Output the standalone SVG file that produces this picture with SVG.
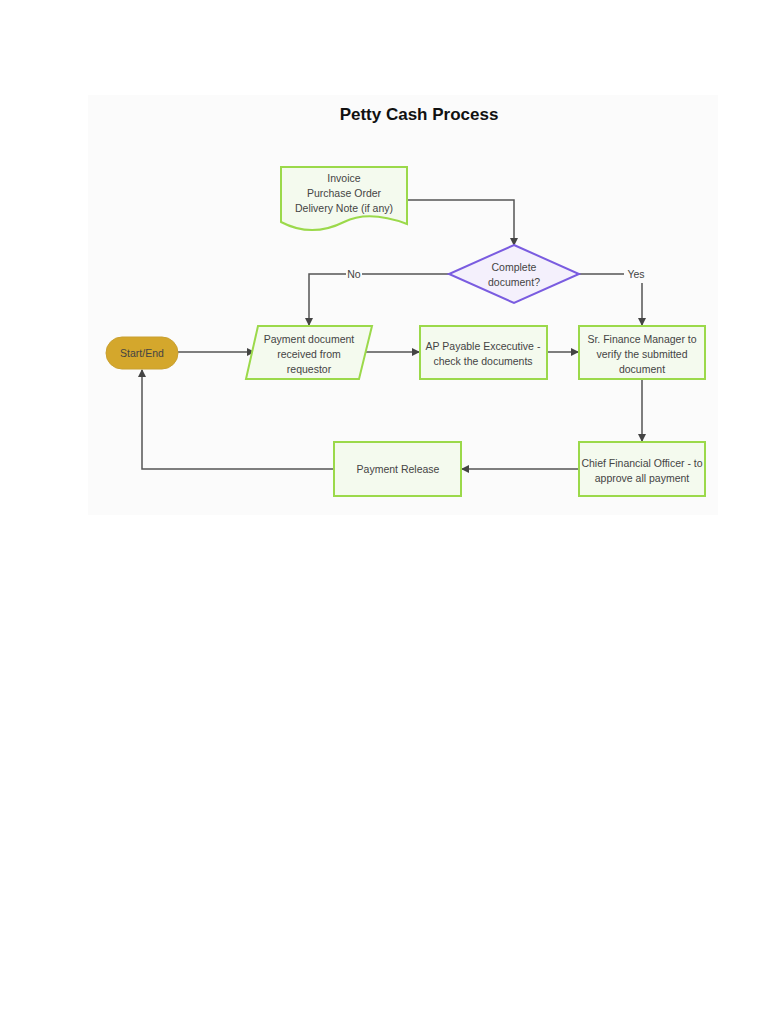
<svg xmlns="http://www.w3.org/2000/svg" width="768" height="1024" viewBox="0 0 768 1024">
<defs>
<marker id="ar" markerWidth="8" markerHeight="8" refX="7" refY="4" orient="auto" markerUnits="userSpaceOnUse"><path d="M0,0 L8,4 L0,8 Z" fill="#444"/></marker>
<style>
.n{fill:#f4faee;stroke:#9bd94a;stroke-width:2}
.t{font-family:"Liberation Sans",Arial,sans-serif;font-size:10.5px;fill:#444;text-anchor:middle}
.c{fill:none;stroke:#555;stroke-width:1.5;marker-end:url(#ar)}
.l{fill:none;stroke:#555;stroke-width:1.5}
</style>
</defs>
<rect width="768" height="1024" fill="#ffffff"/>
<rect x="88" y="95" width="630" height="420" fill="#fbfbfb"/>
<text x="419" y="120" font-family="'Liberation Sans',Arial,sans-serif" font-size="17" font-weight="bold" fill="#111" text-anchor="middle">Petty Cash Process</text>
<g id="connectors">
<path class="c" d="M407,200 H514 V245"/>
<path class="l" d="M449,274 H362"/>
<path class="c" d="M346,274 H309 V325"/>
<text class="t" x="354" y="278">No</text>
<path class="l" d="M579,274 H624"/>
<path class="c" d="M642,283 V325"/>
<text class="t" x="636" y="278">Yes</text>
<path class="c" d="M178,352 H254"/>
<path class="c" d="M365,352 H419"/>
<path class="c" d="M547,352 H578"/>
<path class="c" d="M642,379 V441"/>
<path class="c" d="M579,469 H462"/>
<path class="c" d="M334,469 H142 V370"/>
</g>
<g id="doc"><path class="n" d="M281,167 H407 V224 C380,214 360,214 344,222 C320,234 300,232 281,222 Z"/>
<text class="t" x="344" y="182">Invoice</text><text class="t" x="344" y="197">Purchase Order</text><text class="t" x="344" y="212">Delivery Note (if any)</text></g>
<g id="decision"><path d="M514,245 L579,274 L514,303 L449,274 Z" fill="#f4f0fc" stroke="#7a5ce0" stroke-width="2"/>
<text class="t" x="514" y="271">Complete</text><text class="t" x="514" y="286">document?</text></g>
<g id="start"><rect x="106" y="337" width="72" height="32" rx="16" fill="#d4a72c" stroke="#c9a030" stroke-width="1"/>
<text class="t" x="142" y="357">Start/End</text></g>
<g id="payment-doc"><path class="n" d="M258,326 H372 L359,379 H246 Z"/>
<text class="t" x="309" y="343">Payment document</text><text class="t" x="309" y="358">received from</text><text class="t" x="309" y="373">requestor</text></g>
<g id="ap"><rect class="n" x="420" y="326" width="127" height="53"/>
<text class="t" x="483" y="350">AP Payable Excecutive -</text><text class="t" x="483" y="365">check the documents</text></g>
<g id="sr"><rect class="n" x="579" y="326" width="126" height="53"/>
<text class="t" x="642" y="343">Sr. Finance Manager to</text><text class="t" x="642" y="358">verify the submitted</text><text class="t" x="642" y="373">document</text></g>
<g id="cfo"><rect class="n" x="579" y="442" width="126" height="54"/>
<text class="t" x="642" y="467">Chief Financial Officer - to</text><text class="t" x="642" y="482">approve all payment</text></g>
<g id="release"><rect class="n" x="334" y="442" width="127" height="54"/>
<text class="t" x="398" y="473">Payment Release</text></g>
</svg>
